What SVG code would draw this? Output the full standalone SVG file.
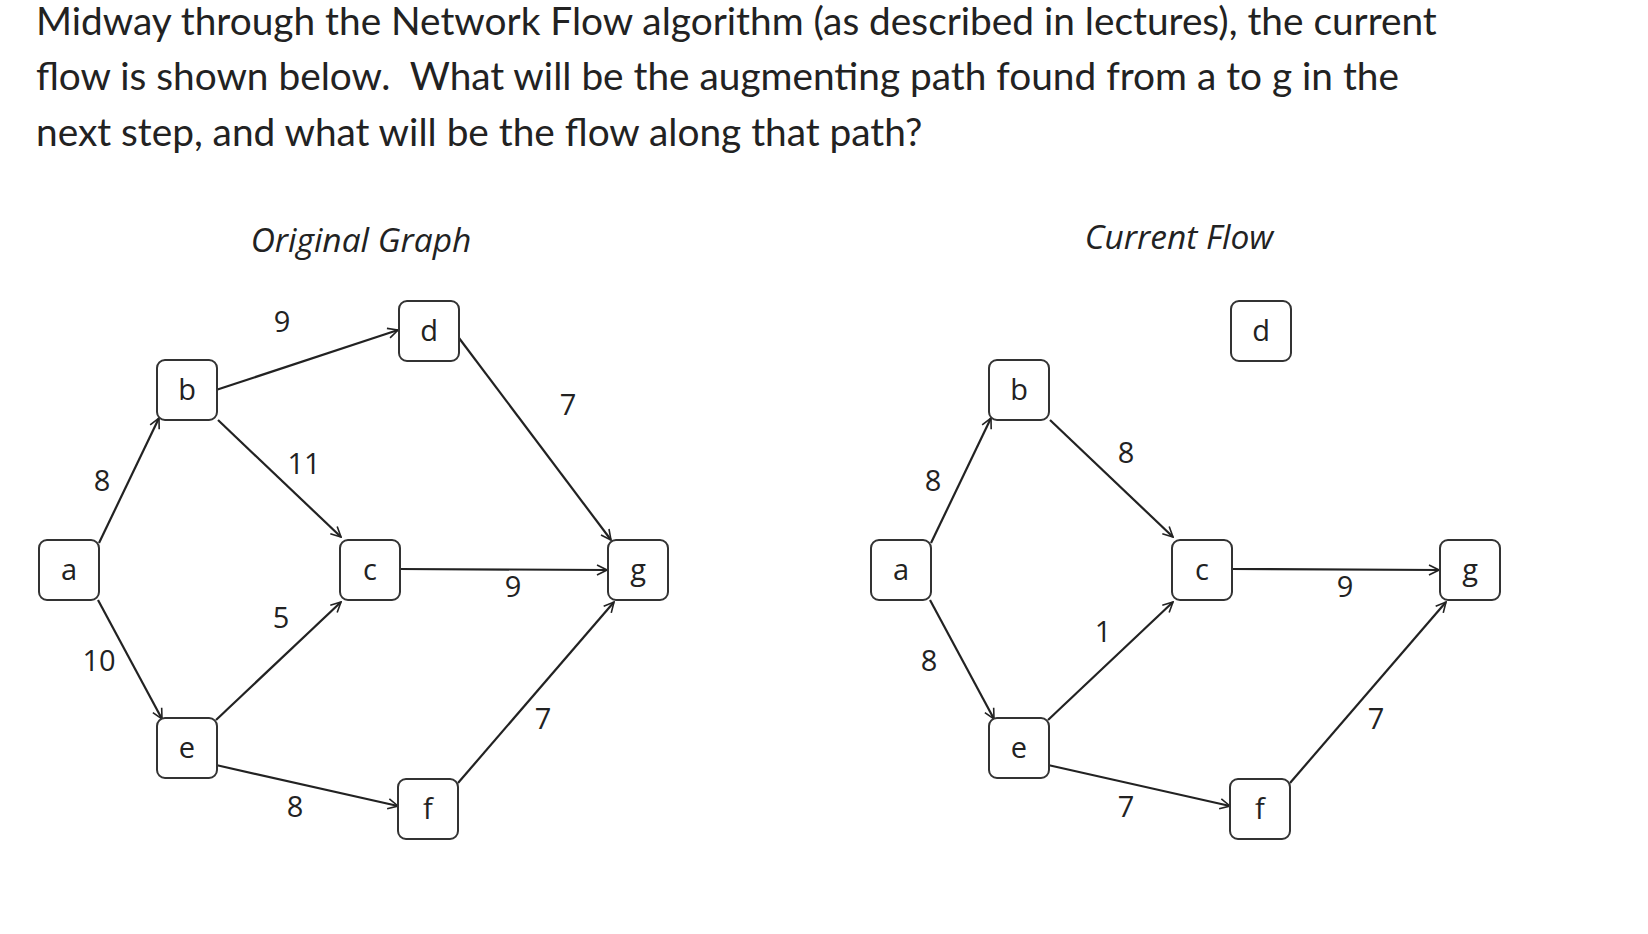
<svg xmlns="http://www.w3.org/2000/svg" width="1648" height="934" viewBox="0 0 1648 934">
<style>
.q{font-family:Lato,"Open Sans",sans-serif;font-size:38.8px;fill:#222}
.h{font-family:"Open Sans",sans-serif;font-style:italic;font-size:33.5px;fill:#222;text-anchor:middle}
.n rect{fill:#fff;stroke:#333;stroke-width:2}
.n text,.l{font-family:"Open Sans","Liberation Sans",sans-serif;font-size:29px;fill:#222;text-anchor:middle}
.e line{stroke:#222;stroke-width:2.2;marker-end:url(#ar)}
</style>
<defs><marker id="ar" viewBox="0 0 12 12" refX="11" refY="6" markerWidth="12" markerHeight="12" markerUnits="userSpaceOnUse" orient="auto"><path d="M1,1 L11,6 L1,11" fill="none" stroke="#222" stroke-width="1.6"/></marker></defs>
<rect width="1648" height="934" fill="#fff"/>
<text class="q" x="36" y="35">Midway through the Network Flow algorithm (as described in lectures), the current</text>
<text class="q" x="36" y="90" xml:space="preserve">flow is shown below.&#160; What will be the augmenting path found from a to g in the</text>
<text class="q" x="36" y="146">next step, and what will be the flow along that path?</text>
<text class="h" x="361" y="252">Original Graph</text>
<text class="h" x="1179" y="249">Current Flow</text>
<g class="e" id="edges">
<line x1="99" y1="543" x2="159" y2="418"/>
<line x1="98" y1="600" x2="162" y2="719"/>
<line x1="216" y1="390" x2="398" y2="330"/>
<line x1="218" y1="420" x2="341" y2="537"/>
<line x1="459" y1="338" x2="611" y2="540"/>
<line x1="399" y1="569" x2="607" y2="570"/>
<line x1="216" y1="720" x2="341" y2="602"/>
<line x1="216" y1="765" x2="398" y2="806"/>
<line x1="458" y1="783" x2="614" y2="602"/>
<line x1="931" y1="543" x2="991" y2="418"/>
<line x1="930" y1="600" x2="994" y2="719"/>
<line x1="1050" y1="420" x2="1173" y2="537"/>
<line x1="1231" y1="569" x2="1439" y2="570"/>
<line x1="1048" y1="720" x2="1173" y2="602"/>
<line x1="1048" y1="765" x2="1230" y2="806"/>
<line x1="1290" y1="783" x2="1446" y2="602"/>
</g>
<g id="labels" class="l">
<text x="282" y="332">9</text><text x="304" y="474">11</text><text x="568" y="415">7</text>
<text x="102" y="491">8</text><text x="99" y="671">10</text><text x="281" y="628">5</text>
<text x="513" y="597">9</text><text x="543" y="729">7</text><text x="295" y="817">8</text>
<text x="933" y="491">8</text><text x="1126" y="463">8</text><text x="929" y="671">8</text>
<text x="1103" y="642">1</text><text x="1345" y="597">9</text><text x="1376" y="729">7</text><text x="1126" y="817">7</text>
</g>
<g id="a1" class="n"><rect x="39" y="540" width="60" height="60" rx="8"/><text x="69" y="580">a</text></g>
<g id="b1" class="n"><rect x="157" y="360" width="60" height="60" rx="8"/><text x="187" y="400">b</text></g>
<g id="d1" class="n"><rect x="399" y="301" width="60" height="60" rx="8"/><text x="429" y="341">d</text></g>
<g id="c1" class="n"><rect x="340" y="540" width="60" height="60" rx="8"/><text x="370" y="580">c</text></g>
<g id="g1" class="n"><rect x="608" y="540" width="60" height="60" rx="8"/><text x="638" y="580">g</text></g>
<g id="e1" class="n"><rect x="157" y="718" width="60" height="60" rx="8"/><text x="187" y="758">e</text></g>
<g id="f1" class="n"><rect x="398" y="779" width="60" height="60" rx="8"/><text x="428" y="819">f</text></g>
<g id="a2" class="n"><rect x="871" y="540" width="60" height="60" rx="8"/><text x="901" y="580">a</text></g>
<g id="b2" class="n"><rect x="989" y="360" width="60" height="60" rx="8"/><text x="1019" y="400">b</text></g>
<g id="d2" class="n"><rect x="1231" y="301" width="60" height="60" rx="8"/><text x="1261" y="341">d</text></g>
<g id="c2" class="n"><rect x="1172" y="540" width="60" height="60" rx="8"/><text x="1202" y="580">c</text></g>
<g id="g2" class="n"><rect x="1440" y="540" width="60" height="60" rx="8"/><text x="1470" y="580">g</text></g>
<g id="e2" class="n"><rect x="989" y="718" width="60" height="60" rx="8"/><text x="1019" y="758">e</text></g>
<g id="f2" class="n"><rect x="1230" y="779" width="60" height="60" rx="8"/><text x="1260" y="819">f</text></g>
</svg>
